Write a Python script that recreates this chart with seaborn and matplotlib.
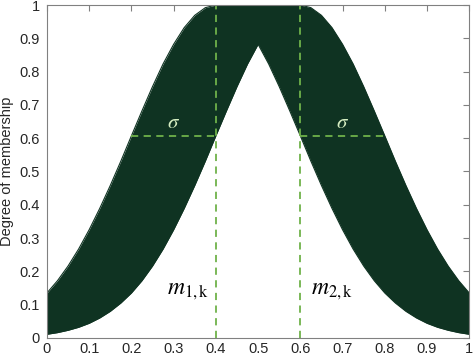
import matplotlib
matplotlib.use("Agg")
import matplotlib.pyplot as plt
import seaborn as sns

x_vals = [0.000, 0.025, 0.050, 0.075, 0.100, 0.125, 0.150, 0.175, 0.200, 0.225,
          0.250, 0.275, 0.300, 0.325, 0.350, 0.375, 0.400, 0.425, 0.450, 0.475,
          0.500, 0.525, 0.550, 0.575, 0.600, 0.625, 0.650, 0.675, 0.700, 0.725,
          0.750, 0.775, 0.800, 0.825, 0.850, 0.875, 0.900, 0.925, 0.950, 0.975, 1.000]
upper_mf = [0.135, 0.172, 0.216, 0.267, 0.325, 0.389, 0.458, 0.531, 0.607, 0.682,
            0.755, 0.823, 0.882, 0.932, 0.969, 0.992, 1.000, 1.000, 1.000, 1.000,
            1.000, 1.000, 1.000, 1.000, 1.000, 0.992, 0.969, 0.932, 0.882, 0.823,
            0.755, 0.682, 0.607, 0.531, 0.458, 0.389, 0.325, 0.267, 0.216, 0.172, 0.135]
lower_mf = [0.011, 0.016, 0.023, 0.032, 0.044, 0.060, 0.080, 0.105, 0.135, 0.172,
            0.216, 0.267, 0.325, 0.389, 0.458, 0.531, 0.607, 0.682, 0.755, 0.823,
            0.882, 0.823, 0.755, 0.682, 0.607, 0.531, 0.458, 0.389, 0.325, 0.267,
            0.216, 0.172, 0.135, 0.105, 0.080, 0.060, 0.044, 0.032, 0.023, 0.016, 0.011]

means = [0.4, 0.6]
mean_labels = [r"$m_{1,\mathrm{k}}$", r"$m_{2,\mathrm{k}}$"]
mean_label_x = [0.335, 0.675]
sigma_level = 0.607
sigma_spans = [(0.2, 0.4), (0.6, 0.8)]
tick_vals = [0, 0.1, 0.2, 0.3, 0.4, 0.5, 0.6, 0.7, 0.8, 0.9, 1]
tick_labels = ["0", "0.1", "0.2", "0.3", "0.4", "0.5", "0.6", "0.7", "0.8", "0.9", "1"]

sns.set_style("white")
plt.rcParams["font.family"] = ["Liberation Sans", "DejaVu Sans"]
plt.rcParams["mathtext.fontset"] = "stix"

fig = plt.figure(figsize=(4.74, 3.58), dpi=100)
ax = fig.add_axes([0.099, 0.056, 0.891, 0.930])

fill_color = "#0f3322"
dash_color = "#6fb24a"

ax.fill_between(x_vals, lower_mf, upper_mf, color=fill_color, linewidth=0)
sns.lineplot(x=x_vals, y=upper_mf, ax=ax, color=fill_color, linewidth=0.8)
sns.lineplot(x=x_vals, y=lower_mf, ax=ax, color=fill_color, linewidth=0.8)

for m in means:
    ax.axvline(m, color=dash_color, linestyle=(0, (4, 3)), linewidth=1.3)
for a, b in sigma_spans:
    ax.plot([a, b], [sigma_level, sigma_level], color=dash_color,
            linestyle=(0, (4, 3)), linewidth=1.3)
    ax.text((a + b) / 2, 0.648, r"$\sigma$", color="#d4ecc0",
            fontsize=15, ha="center", va="center")

for lx, lab in zip(mean_label_x, mean_labels):
    ax.text(lx, 0.14, lab, fontsize=17, ha="center", va="center", color="black")

ax.set_xlim(0, 1)
ax.set_ylim(0, 1)
ax.set_xticks(tick_vals)
ax.set_yticks(tick_vals)
ax.set_xticklabels(tick_labels)
ax.set_yticklabels(tick_labels)
ax.tick_params(direction="in", length=4, width=0.8, color="#808080",
               labelsize=10.5, top=True, right=True, pad=5)
ax.tick_params(axis="x", pad=3)
for s in ax.spines.values():
    s.set_color("#808080")
    s.set_linewidth(0.8)
ax.set_ylabel("Degree of membership", fontsize=10.5, labelpad=4)

fig.savefig("out.png", dpi=100)
